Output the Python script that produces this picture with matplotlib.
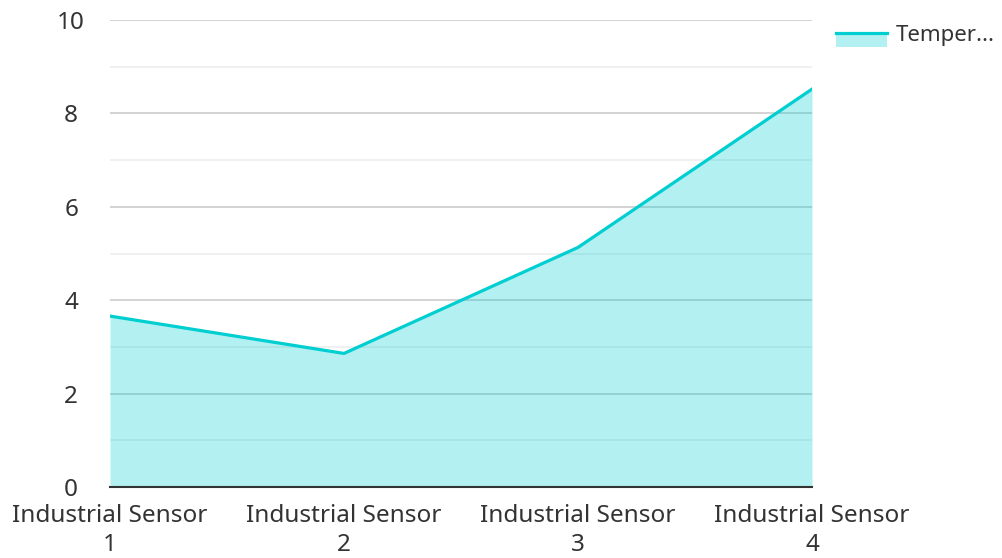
import numpy as np
import matplotlib.pyplot as plt
from matplotlib.patches import Rectangle
from matplotlib.lines import Line2D
from matplotlib.legend_handler import HandlerBase

plt.rcParams['font.family'] = ['Noto Sans', 'DejaVu Sans']

# Data
categories = ["Industrial Sensor\n1", "Industrial Sensor\n2", "Industrial Sensor\n3", "Industrial Sensor\n4"]
temperature = [3.66, 2.86, 5.13, 8.52]
series_name = "Temper..."

line_color = '#00CED1'
text_color = '#333333'
fs = 17.5


# legend handle: line level with the text, filled box hanging below it
class HandlerAreaLine(HandlerBase):
    def create_artists(self, legend, orig_handle, xdescent, ydescent, width, height, fontsize, trans):
        mid = -ydescent + height / 2
        rect = Rectangle((-xdescent, mid - height), width, height, facecolor=line_color,
                         alpha=0.3, edgecolor='none', transform=trans)
        line = Line2D([-xdescent, -xdescent + width], [mid, mid], color=line_color,
                      linewidth=2.3, transform=trans)
        return [rect, line]


fig = plt.figure(figsize=(10.02, 5.58), dpi=100)
ax = fig.add_axes([110 / 1002, 71 / 558, 702 / 1002, 467 / 558])

x = np.arange(len(categories))
ax.fill_between(x, 0, temperature, color=line_color, alpha=0.3, linewidth=0, zorder=2)
ax.plot(x, temperature, color=line_color, linewidth=2.3, zorder=3)

ax.set_xlim(0, len(categories) - 1)
ax.set_ylim(0, 10)
ax.set_yticks([0, 2, 4, 6, 8, 10])
ax.set_yticks([1, 3, 5, 7, 9], minor=True)
ax.set_xticks(x)
ax.set_xticklabels(categories, linespacing=1.28)

ax.grid(axis='y', which='major', color='#cccccc', linewidth=1.2, zorder=1)
ax.grid(axis='y', which='minor', color='#eeeeee', linewidth=1.2, zorder=1)

for s in ['top', 'right', 'left']:
    ax.spines[s].set_visible(False)
ax.spines['bottom'].set_color('#333333')
ax.spines['bottom'].set_linewidth(1.5)
ax.spines['bottom'].set_zorder(4)

ax.tick_params(axis='both', which='both', length=0, labelsize=fs, colors=text_color)
ax.tick_params(axis='y', pad=28)
ax.tick_params(axis='x', pad=12)
for lab in ax.get_yticklabels():
    lab.set_horizontalalignment('center')

leg = fig.legend([object()], [series_name], loc='upper left', bbox_to_anchor=(836 / 1002, 1 - 25 / 558),
                 frameon=False, fontsize=16, handlelength=2.3, handleheight=0.6, handletextpad=0.4,
                 borderpad=0, borderaxespad=0,
                 handler_map={object: HandlerAreaLine()})
for t in leg.get_texts():
    t.set_color(text_color)

fig.savefig('out.png', dpi=100)
